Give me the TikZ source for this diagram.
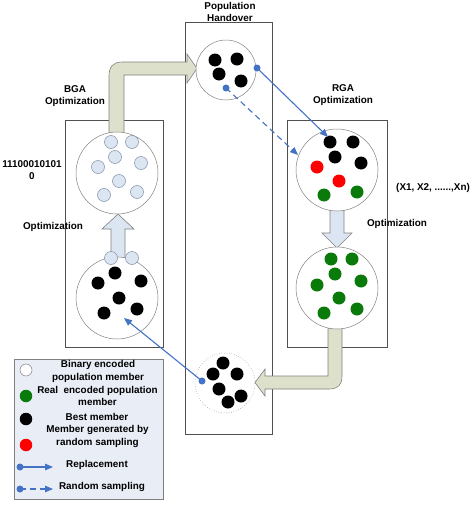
\documentclass[tikz,border=0pt]{standalone}
\usepackage{fontspec}
\setmainfont{Liberation Sans}
\usetikzlibrary{arrows.meta}
\definecolor{lightdot}{HTML}{DCE6F2}
\definecolor{dotedge}{HTML}{7F8FA8}
\definecolor{bluearr}{HTML}{4472C4}
\definecolor{darkgreen}{HTML}{0A7A0A}
\definecolor{arrowfill}{HTML}{DDE0CB}
\definecolor{legfill}{HTML}{E8EDF6}
\definecolor{boxline}{HTML}{505050}
\begin{document}
\begin{tikzpicture}[x=1pt,y=-1pt,
  txt/.style={font=\fontsize{9.9}{12.5}\selectfont\bfseries, align=center, inner sep=0pt},
  panel/.style={draw=boxline, line width=0.9pt},
  pool/.style={circle, draw=gray, line width=0.5pt, fill=white, minimum size=82pt, inner sep=0pt},
  smallpool/.style={circle, draw=gray, line width=0.5pt, fill=white, minimum size=60pt, inner sep=0pt},
  bitdot/.style={circle, draw=dotedge, line width=0.5pt, fill=lightdot, minimum size=13pt, inner sep=0pt},
  bestdot/.style={circle, fill=black, minimum size=13pt, inner sep=0pt},
  realdot/.style={circle, fill=darkgreen, minimum size=13pt, inner sep=0pt},
  randdot/.style={circle, fill=red, minimum size=13pt, inner sep=0pt},
  bluepin/.style={circle, fill=bluearr, minimum size=7pt, inner sep=0pt},
  repl/.style={draw=bluearr, line width=1.1pt, -{Triangle[length=8pt,width=6.5pt]}},
  samp/.style={repl, dash pattern=on 6pt off 4pt},
  bigarrow/.style={draw=gray, fill=arrowfill, line width=0.6pt},
  steparrow/.style={draw=gray, fill=lightdot, line width=0.6pt},
  legendbox/.style={draw=gray, fill=legfill, line width=0.8pt},
]
\path[use as bounding box] (0,0) rectangle (474,514);

% panels
\draw[panel] (65,120) rectangle (163,347);
\draw[panel] (185,22) rectangle (272,434);
\draw[panel] (287,120) rectangle (387,347);

% big handover arrows
\draw[bigarrow] (109,133) -- (109,76) .. controls (109,67) and (113,62) .. (122,62)
  -- (187,62) -- (187,54) -- (197,68.5) -- (187,83) -- (187,75) -- (124,75) -- (124,133) -- cycle;
\draw[bigarrow] (328,328) -- (328,376) -- (265,376) -- (265,369) -- (255,382.5) -- (265,396)
  -- (265,389) -- (329,389) .. controls (338,389) and (342,385) .. (342,376) -- (342,328) -- cycle;

% optimization step arrows
\draw[steparrow] (111,258) -- (111,229) -- (102,229) -- (118,214) -- (134,229) -- (125,229) -- (125,258) -- cycle;
\draw[steparrow] (330,210) -- (330,233) -- (322,233) -- (337,248) -- (352,233) -- (344,233) -- (344,210) -- cycle;

% pools
\node[pool] (bga) at (117,173) {};
\node[pool] (bgab) at (117,298) {};
\node[pool] (rga) at (337,170) {};
\node[pool] (rgab) at (337,288) {};
\node[smallpool] (hot) at (226,70) {};
\node[smallpool, dotted] (hob) at (225,383) {};

% BGA top pool
\foreach \p [count=\i] in {(111,142),(132,142),(115,157),(98,167),(141,163),(119,181),(104,195),(137,192)}
  \node[bitdot] (ba\i) at \p {};
% BGA bottom pool
\foreach \p [count=\i] in {(111,258),(132,258)}
  \node[bitdot] (bb\i) at \p {};
\foreach \p [count=\i] in {(115,273),(98,283),(141,281),(119,298),(104,313),(137,309)}
  \node[bestdot] (bk\i) at \p {};
% RGA top pool
\foreach \p [count=\i] in {(330,142),(353,142),(335,157),(361,163)}
  \node[bestdot] (ra\i) at \p {};
\foreach \p [count=\i] in {(317,167),(339,181)}
  \node[randdot] (rr\i) at \p {};
\foreach \p [count=\i] in {(324,195),(357,192)}
  \node[realdot] (rg\i) at \p {};
% RGA bottom pool
\foreach \p [count=\i] in {(331,259),(352,259),(335,274),(317,285),(361,281),(339,298),(324,313),(357,309)}
  \node[realdot] (rb\i) at \p {};
% handover pools
\foreach \p [count=\i] in {(215,60),(237,59),(219,74),(241,81)}
  \node[bestdot] (ht\i) at \p {};
\foreach \p [count=\i] in {(223,363),(213,374),(237,374),(219,389),(241,396),(228,402)}
  \node[bestdot] (hb\i) at \p {};

% blue connectors
\node[bluepin] (pr) at (257,68) {};
\node[bluepin] (ps) at (226,88) {};
\node[bluepin] (pb) at (202,381) {};
\coordinate (rgaIn) at (328,137);
\coordinate (rgaEdge) at (298,155);
\coordinate (bgaIn) at (124,318);
\draw[repl] (pr.center) -- (rgaIn);
\draw[samp] (ps.center) -- (rgaEdge);
\draw[repl] (pb.center) -- (bgaIn);

% labels
\node[txt] (lho) at (230,12) {Population\\Handover};
\node[txt] (lbga) at (75,96) {BGA\\Optimization};
\node[txt] (lrga) at (343,95) {RGA\\Optimization};
\node[txt] (lbits) at (32,170) {11100010101\\0};
\node[txt] (lopl) at (53,227) {Optimization};
\node[txt] (lopr) at (397,224) {Optimization};
\node[txt, anchor=west] (lvec) at (396,188) {(X1, X2, ......,Xn)};

% legend
\draw[legendbox] (14,359) rectangle (163,499);
\node[bitdot, minimum size=12pt, draw=gray, fill=white] (k1) at (26,370) {};
\node[realdot, minimum size=12.5pt] (k2) at (26,396) {};
\node[bestdot, minimum size=12.5pt] (k3) at (26,419) {};
\node[randdot, minimum size=12.5pt] (k4) at (26,445) {};
\node[bluepin] (k5) at (20,467) {};
\coordinate (k5e) at (53,467);
\draw[repl] (k5.center) -- (k5e);
\node[bluepin] (k6) at (20,489) {};
\coordinate (k6e) at (53,489);
\draw[samp] (k6.center) -- (k6e);
\node[txt] (t1) at (98,371.5) {Binary encoded\\population member};
\node[txt] (t2) at (97.5,396) {Real\ \ encoded population\\member};
\node[txt] (t3) at (97,417) {Best member};
\node[txt] (t4) at (97.5,436.5) {Member generated by\\random sampling};
\node[txt] (t5) at (97,465) {Replacement};
\node[txt] (t6) at (102,487) {Random sampling};
\end{tikzpicture}
\end{document}
